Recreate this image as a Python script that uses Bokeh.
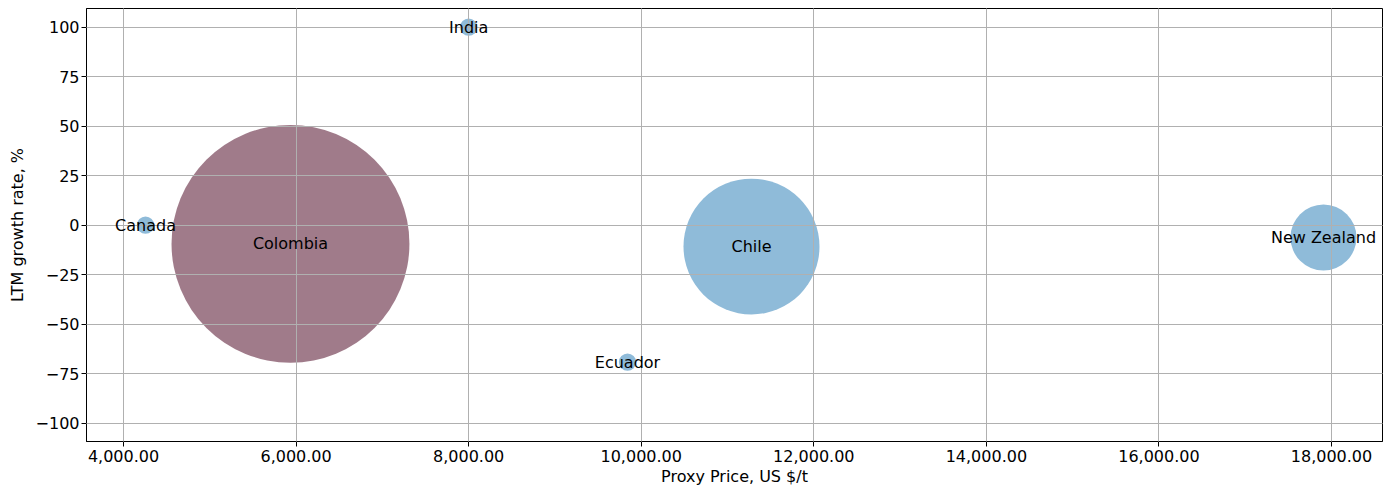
import numpy as np
from bokeh.plotting import figure
from bokeh.models import (ColumnDataSource, LabelSet, Range1d, FixedTicker,
                          NumeralTickFormatter, CustomJSTickFormatter)
from bokeh.core.properties import value
from bokeh.embed import file_html
from bokeh.resources import INLINE

# ---- data ----
countries = ["Canada", "Colombia", "India", "Ecuador", "Chile", "New Zealand"]
proxy_price = [4255, 5935, 8000, 9841, 11278, 17907]          # US $/t
ltm_growth = [0.0, -9.4, 100.0, -69.1, -10.8, -6.2]            # %
volume = [300, 56600, 300, 300, 18500, 4360]                   # bubble area units
colors = ["#8fbbd9", "#a07b8a", "#8fbbd9", "#8fbbd9", "#8fbbd9", "#8fbbd9"]
x_ticks = [4000, 6000, 8000, 10000, 12000, 14000, 16000, 18000]
y_ticks = [-100, -75, -50, -25, 0, 25, 50, 75, 100]

diam = [float(np.sqrt(v)) for v in volume]

src = ColumnDataSource(dict(x=proxy_price, y=ltm_growth, size=diam,
                            color=colors, name=countries))

FONT = "DejaVu Sans"
p = figure(width=1391, height=489, output_backend="svg", toolbar_location=None,
           x_range=Range1d(3571, 18591), y_range=Range1d(-109.2, 109.4),
           min_border_left=86, min_border_right=9, min_border_top=8,
           min_border_bottom=48)
p.background_fill_color = "white"
p.outline_line_color = "black"
p.outline_line_width = 1

p.scatter("x", "y", size="size", fill_color="color", line_color=None,
          source=src)

labels = LabelSet(x="x", y="y", text="name", source=src, text_align="center",
                  text_baseline="middle", text_font=value(FONT),
                  text_font_size="16px", text_color="black")
p.add_layout(labels)

for g in (p.xgrid, p.ygrid):
    g.grid_line_color = "#b0b0b0"
    g.grid_line_width = 1
    g.level = "guide"

p.xaxis.ticker = FixedTicker(ticks=x_ticks)
p.yaxis.ticker = FixedTicker(ticks=y_ticks)
p.xaxis.formatter = NumeralTickFormatter(format="0,0.00")
p.yaxis.formatter = CustomJSTickFormatter(
    code="return tick < 0 ? '\u2212' + Math.abs(tick) : String(tick);")

p.xaxis.axis_label = "Proxy Price, US $/t"
p.yaxis.axis_label = "LTM growth rate, %"
for ax in (p.xaxis, p.yaxis):
    ax.axis_line_color = "black"
    ax.major_tick_line_color = "black"
    ax.major_tick_out = 5
    ax.major_tick_in = 0
    ax.minor_tick_line_color = None
    ax.major_label_text_font = FONT
    ax.major_label_text_font_size = "16px"
    ax.major_label_text_color = "black"
    ax.axis_label_text_font = FONT
    ax.axis_label_text_font_size = "16px"
    ax.axis_label_text_font_style = "normal"
    ax.axis_label_text_color = "black"
    ax.major_label_standoff = 2
    ax.axis_label_standoff = 6
p.xaxis.major_label_standoff = 3
p.xaxis.axis_label_standoff = 2

open("out.html", "w").write(file_html(p, INLINE))
